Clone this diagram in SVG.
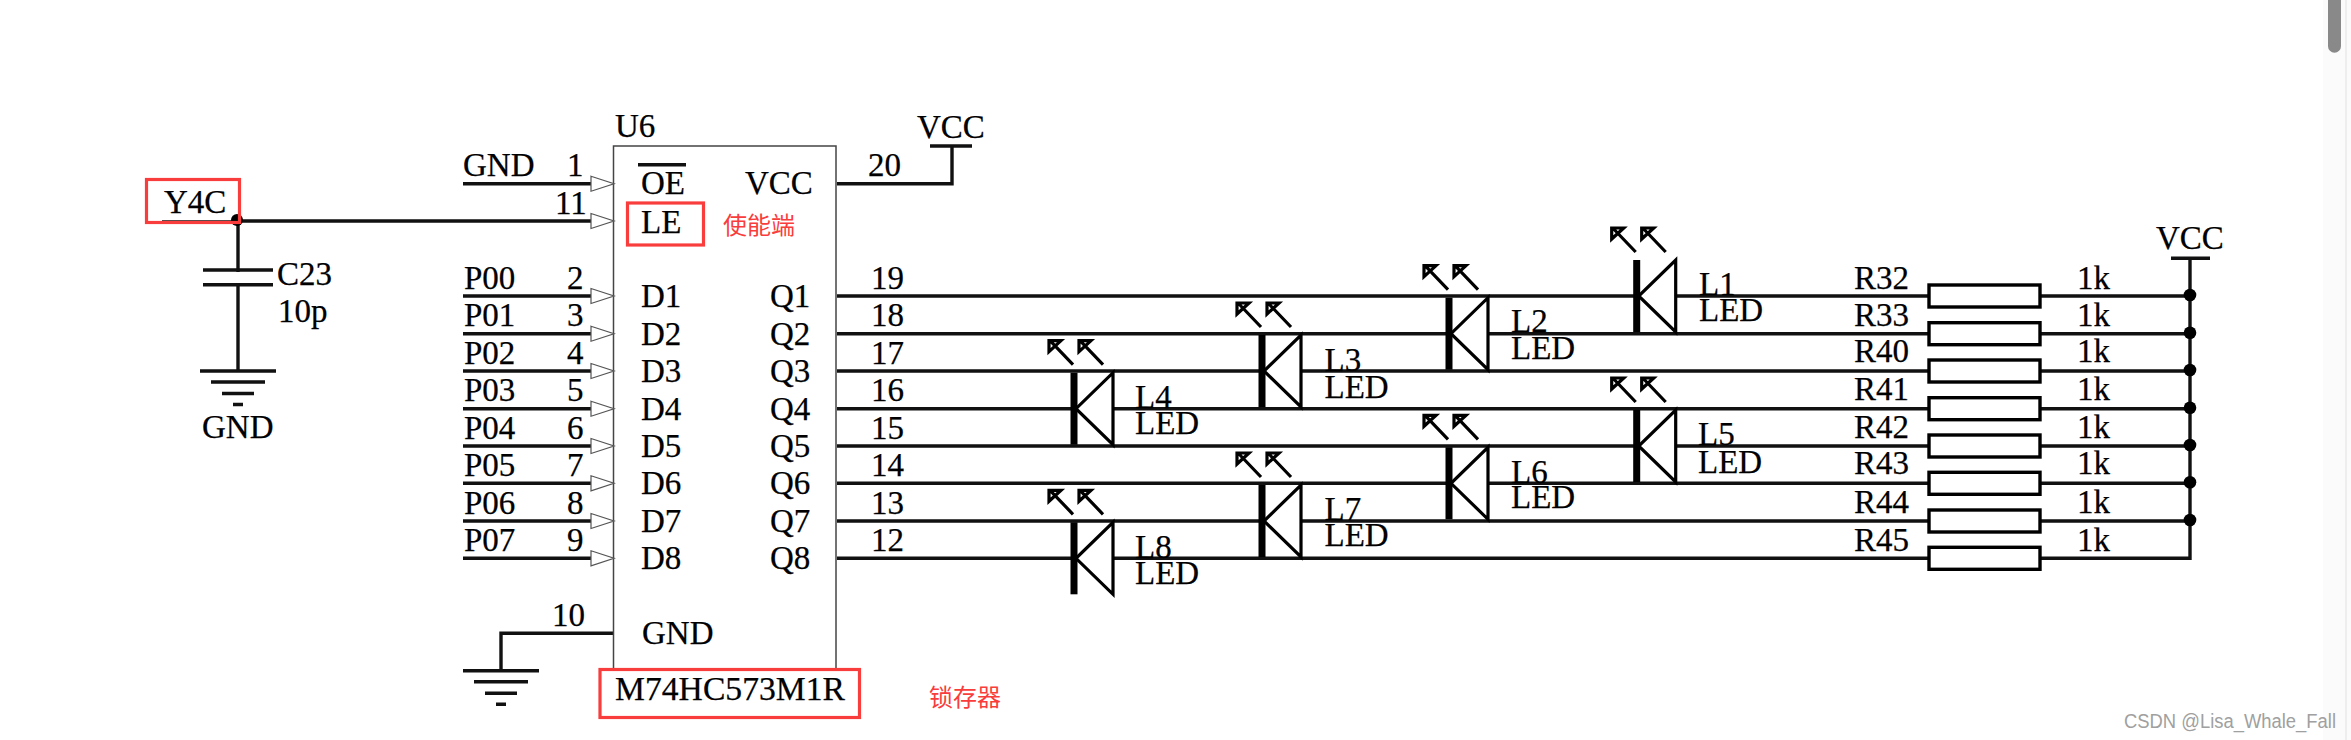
<svg xmlns="http://www.w3.org/2000/svg" xmlns:xlink="http://www.w3.org/1999/xlink" width="2351" height="740" viewBox="0 0 2351 740">
<style>
text{font-family:"Liberation Serif","Times New Roman",serif;font-size:33px;fill:#000;stroke:#000;stroke-width:.25}
.w{stroke:#111;stroke-width:3.4;fill:none}
.j{fill:#000}
.pin{fill:#fff;stroke:#555;stroke-width:1.2}
.red{fill:none;stroke:#f93c3c;stroke-width:3.2}
text.cn{font-family:"Noto Sans CJK SC","Noto Sans",sans-serif;font-size:24px;fill:#f93c3c;stroke:none}
text.wm{font-family:"Liberation Sans",sans-serif;font-size:20px;fill:#a0a0a0;stroke:none}
.tri{fill:#fff;stroke:#000;stroke-width:3.2}
.bar{fill:#000}
.arr{fill:none;stroke:#000;stroke-width:3.2}
.res{fill:#fff;stroke:#000;stroke-width:3.4}
</style>
<defs>
<g id="arrows"><path class="arr" d="M-1-44L-23-67M-25-57V-68H-13Z"/><path class="arr" d="M29-44L7-67M5-57V-68H17Z"/></g>
<g id="led"><use xlink:href="#arrows"/><rect class="bar" x="-3.5" y="-36" width="7" height="72"/><path class="tri" d="M39-36V36L2 0Z"/></g>
<g id="rs"><rect class="res" x="0" y="-11" width="111" height="22"/></g>
<g id="pinh"><path class="pin" d="M0-7.500L23 0L0 7.500Z"/></g>
<g id="earth"><path class="w" d="M-38 0H38M-27 11H27M-16 22.500H16M-5 33.500H5"/></g>
</defs>
<rect width="2351" height="740" fill="#fff"/>
<rect x="2323" width="22" height="740" fill="#fbfbfb"/>
<rect x="2345" width="2" height="740" fill="#eeeeee"/>
<rect x="2347" width="4" height="740" fill="#fbfbfb"/>
<path d="M2328 0H2341V46.200A6.500 6.500 0 0 1 2328 46.200Z" fill="#898989"/>

<g id="connectors">
<path class="w" d="M463 183.700H591M237 221H591M463 296H591M463 333.700H591M463 371H591M463 408.700H591M463 446H591M463 483.300H591M463 521H591M463 558.300H591"/>
<path class="w" d="M837 183.700H952V146"/>
<path class="w" d="M614 633.300H501V670.700"/>
<path class="w" d="M238 221V371" />
<path class="w" style="stroke-width:1.5" d="M162 221H237"/>
<path class="w" d="M837 296H1930M837 333.700H1930M837 371H1930M837 408.700H1930M837 446H1930M837 483.300H1930M837 521H1930M837 558.300H1930"/>
<path class="w" d="M2040 296H2190M2040 333.700H2190M2040 371H2190M2040 408.700H2190M2040 446H2190M2040 483.300H2190M2040 521H2190M2040 558.300H2190"/>
<path class="w" d="M2190 258V560"/>
<circle class="j" cx="237" cy="220" r="6"/>
<circle class="j" cx="2190" cy="295" r="6.300"/>
<circle class="j" cx="2190" cy="332.700" r="6.300"/>
<circle class="j" cx="2190" cy="370" r="6.300"/>
<circle class="j" cx="2190" cy="407.700" r="6.300"/>
<circle class="j" cx="2190" cy="445" r="6.300"/>
<circle class="j" cx="2190" cy="482.300" r="6.300"/>
<circle class="j" cx="2190" cy="520" r="6.300"/>
</g>

<g id="U6">
<rect x="613.500" y="146" width="222.500" height="523" fill="#fff" stroke="#444" stroke-width="1.500"/>
<text x="615" y="137">U6</text>
<path d="M638 164.700H686" stroke="#111" stroke-width="3.400"/>
<text x="641" y="194">OE</text><text x="745" y="194">VCC</text>
<text x="641" y="232.700">LE</text>
<text x="641" y="307">D1</text><text x="641" y="345">D2</text><text x="641" y="382">D3</text><text x="641" y="420">D4</text><text x="641" y="457">D5</text><text x="641" y="494">D6</text><text x="641" y="532">D7</text><text x="641" y="569">D8</text>
<text x="770" y="307">Q1</text><text x="770" y="345">Q2</text><text x="770" y="382">Q3</text><text x="770" y="420">Q4</text><text x="770" y="457">Q5</text><text x="770" y="494">Q6</text><text x="770" y="532">Q7</text><text x="770" y="569">Q8</text>
<text x="642" y="644">GND</text>
<text x="615" y="700" textLength="230" lengthAdjust="spacingAndGlyphs">M74HC573M1R</text>
<use xlink:href="#pinh" x="591" y="183.700"/><use xlink:href="#pinh" x="591" y="221"/><use xlink:href="#pinh" x="591" y="296"/><use xlink:href="#pinh" x="591" y="333.700"/><use xlink:href="#pinh" x="591" y="371"/><use xlink:href="#pinh" x="591" y="408.700"/><use xlink:href="#pinh" x="591" y="446"/><use xlink:href="#pinh" x="591" y="483.300"/><use xlink:href="#pinh" x="591" y="521"/><use xlink:href="#pinh" x="591" y="558.300"/>
<text x="463" y="176">GND</text><text x="567" y="176">1</text><text x="555" y="213.700">11</text>
<text x="464" y="288.700">P00</text><text x="464" y="326">P01</text><text x="464" y="363.500">P02</text><text x="464" y="401">P03</text><text x="464" y="438.500">P04</text><text x="464" y="476">P05</text><text x="464" y="513.500">P06</text><text x="464" y="551">P07</text>
<text x="567" y="288.700">2</text><text x="567" y="326">3</text><text x="567" y="363.500">4</text><text x="567" y="401">5</text><text x="567" y="438.500">6</text><text x="567" y="476">7</text><text x="567" y="513.500">8</text><text x="567" y="551">9</text>
<text x="552" y="625.700">10</text>
<text x="868" y="176">20</text>
<text x="871" y="288.700">19</text><text x="871" y="326">18</text><text x="871" y="363.500">17</text><text x="871" y="401">16</text><text x="871" y="438.500">15</text><text x="871" y="476">14</text><text x="871" y="513.500">13</text><text x="871" y="551">12</text>
</g>

<g id="vcc-top"><path class="w" d="M930 146H972"/><text x="917" y="138">VCC</text></g>
<g id="vcc-right"><path class="w" d="M2171 258.300H2210"/><text x="2156" y="249">VCC</text></g>
<g id="gnd-chip"><use xlink:href="#earth" x="501" y="670.700"/></g>
<g id="gnd-c23"><use xlink:href="#earth" x="238" y="371"/><text x="202" y="438">GND</text></g>
<g id="Y4C"><text x="164" y="213">Y4C</text></g>
<g id="C23">
<rect x="204" y="272" width="68" height="11" fill="#fff"/>
<path class="w" style="stroke-width:3.6" d="M203 270H273M203 284.700H273"/>
<text x="277" y="285">C23</text><text x="278" y="321.700">10p</text>
</g>

<g id="L1"><use xlink:href="#led" x="1636.700" y="296"/><text x="1699" y="295">L1</text><text x="1699" y="321">LED</text></g>
<g id="L2"><use xlink:href="#led" x="1449" y="333.700"/><text x="1511" y="332.300">L2</text><text x="1511" y="359">LED</text></g>
<g id="L3"><use xlink:href="#led" x="1262" y="371"/><text x="1324.500" y="371">L3</text><text x="1324.500" y="398.300">LED</text></g>
<g id="L4"><use xlink:href="#led" x="1074" y="408.700"/><text x="1135" y="408">L4</text><text x="1135" y="434">LED</text></g>
<g id="L5"><use xlink:href="#led" x="1636.700" y="446"/><text x="1698" y="445">L5</text><text x="1698" y="472.700">LED</text></g>
<g id="L6"><use xlink:href="#led" x="1449" y="483.300"/><text x="1511" y="483">L6</text><text x="1511" y="507.700">LED</text></g>
<g id="L7"><use xlink:href="#led" x="1262" y="521"/><text x="1324.500" y="520">L7</text><text x="1324.500" y="546">LED</text></g>
<g id="L8"><use xlink:href="#led" x="1074" y="558.300"/><text x="1135" y="557.700">L8</text><text x="1135" y="584">LED</text></g>

<g id="R32"><use xlink:href="#rs" x="1929" y="296"/><text x="1854" y="288.700">R32</text><text x="2077" y="288.700">1k</text></g>
<g id="R33"><use xlink:href="#rs" x="1929" y="333.700"/><text x="1854" y="326">R33</text><text x="2077" y="326">1k</text></g>
<g id="R40"><use xlink:href="#rs" x="1929" y="371"/><text x="1854" y="362.300">R40</text><text x="2077" y="362.300">1k</text></g>
<g id="R41"><use xlink:href="#rs" x="1929" y="408.700"/><text x="1854" y="400">R41</text><text x="2077" y="400">1k</text></g>
<g id="R42"><use xlink:href="#rs" x="1929" y="446"/><text x="1854" y="438">R42</text><text x="2077" y="438">1k</text></g>
<g id="R43"><use xlink:href="#rs" x="1929" y="483.300"/><text x="1854" y="474">R43</text><text x="2077" y="474">1k</text></g>
<g id="R44"><use xlink:href="#rs" x="1929" y="521"/><text x="1854" y="513">R44</text><text x="2077" y="513">1k</text></g>
<g id="R45"><use xlink:href="#rs" x="1929" y="558.300"/><text x="1854" y="551">R45</text><text x="2077" y="551">1k</text></g>

<g id="annotations">
<rect class="red" x="146.500" y="179.500" width="93" height="43"/>
<rect class="red" x="627.500" y="203" width="76" height="42"/>
<rect class="red" x="600" y="669.500" width="259.500" height="48"/>
<text class="cn" x="723" y="234">使能端</text>
<text class="cn" x="929" y="706">锁存器</text>
</g>
<text class="wm" x="2124" y="728" textLength="212" lengthAdjust="spacingAndGlyphs">CSDN @Lisa_Whale_Fall</text>
</svg>
